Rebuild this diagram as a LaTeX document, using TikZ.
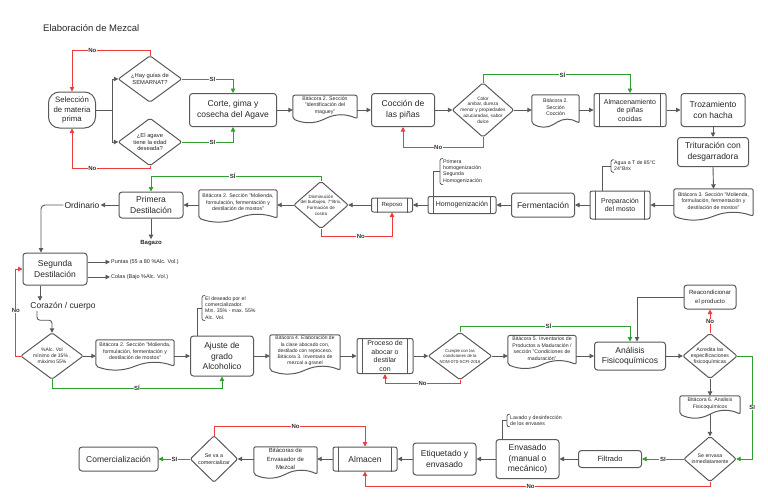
\documentclass[tikz,border=0pt]{standalone}
\usepackage{fontspec}
\setmainfont{Liberation Sans}
\usetikzlibrary{arrows.meta,calc}
\newcommand{\fsz}[2]{\fontsize{#1}{#2}\selectfont}
\definecolor{linec}{HTML}{595959}
\definecolor{noc}{HTML}{EE3B3B}
\definecolor{sic}{HTML}{2FA02F}

\begin{document}
\begin{tikzpicture}[x=1pt,y=-1pt,
  sz/.style 2 args={minimum width=#1pt,minimum height=#2pt},
  base/.style={align=center,inner sep=1pt,text=black!85},
  box/.style={base,draw=linec,line width=1pt,rounded corners=3pt,font=\fsz{8.5}{10.5}},
  pill/.style={box,rounded corners=11pt,font=\fsz{7.8}{9.5}},
  proc/.style={box,rounded corners=2pt,font=\fsz{7}{8.5}},
  doc/.style={base,font=\fsz{5.2}{6.6}},
  dec/.style={base,inner sep=0pt,font=\fsz{5}{6}},
  note/.style={base,align=left,anchor=west,inner xsep=3pt,inner ysep=1pt,font=\fsz{5.2}{6.2}},
  txt/.style={base,font=\fsz{8.5}{10.5}},
  small/.style={base,font=\fsz{5.5}{6.5}},
  outline/.style={draw=linec,line width=1pt,rounded corners=2pt},
  arr/.style={draw=linec,line width=.9pt,-{Triangle[length=4.5pt,width=4.5pt]}},
  no/.style={arr,draw=noc},
  si/.style={arr,draw=sic},
  lab/.style={fill=white,inner sep=.6pt,font=\bfseries\fsz{6}{6},text=black!80}
]
\useasboundingbox (0,0) rectangle (768,503);

\node[txt,anchor=west,font=\fsz{9.5}{11}] (title) at (42,28) {Elaboración de Mezcal};

\node[pill,sz={47}{36}] (sel) at (72,110) {Selección\\de materia\\prima};
\node[dec,sz={63}{46},font=\fsz{5.8}{6.8}] (guias) at (150,79) {¿Hay guías de\\SEMARNAT?};
\node[dec,sz={63}{47},font=\fsz{5.8}{6.8}] (edad) at (150,142) {¿El agave\\tiene la edad\\deseada?};
\node[box,sz={87}{33}] (corte) at (233,110) {Corte, gima y\\cosecha del Agave};
\node[doc,sz={64}{19}] (bitA) at (325,105.5) {Bitácora 2. Sección\\"Identificación del\\maguey"};
\node[box,sz={63}{33}] (coccion) at (403,110) {Cocción de\\las piñas};
\node[dec,sz={61}{54},font=\fsz{4.8}{5.8}] (color) at (483,110)
  {Color\\ambar, dureza\\menor y propiedades\\azucaradas, sabor\\dulce};
\node[doc,sz={47}{25}] (bitB) at (555.5,107.5) {Bitácora 2.\\Sección\\Cocción};
\node[proc,sz={72}{33}] (alm) at (630,110) {Almacenamiento\\de piñas\\cocidas};
\node[box,sz={64}{33}] (troz) at (713,110) {Trozamiento\\con hacha};
\node[box,sz={71}{29}] (trit) at (713,152) {Trituración con\\desgarradora};

\node[doc,sz={79}{24}] (bitC) at (713.5,201)
  {Bitácora 3. Sección "Molienda,\\formulación, fermentación y\\destilación de mostos"};
\node[proc,sz={60}{28}] (prep) at (620,205) {Preparación\\del mosto};
\node[box,sz={63}{24}] (ferm) at (543,205) {Fermentación};
\node[proc,sz={68}{17}] (homog) at (462,205) {Homogenización};
\node[proc,sz={41}{14},font=\fsz{6}{7}] (reposo) at (392,205) {Reposo};
\node[dec,sz={54}{47},font=\fsz{4.5}{5.6}] (burb) at (321,205) {Disminución\\del burbujeo, 7°Brix,\\Formación de\\costra};
\node[doc,sz={78}{25}] (bitD) at (238,202.5)
  {Bitácora 2. Sección "Molienda,\\formulación, fermentación y\\destilación de mostos"};
\node[box,sz={64}{26}] (prim) at (151,205) {Primera\\Destilación};
\node[txt] (ordin) at (82,205) {Ordinario};
\node[txt,font=\bfseries\fsz{6}{7}] (bagazo) at (151,243) {Bagazo};

\node[box,sz={64}{32}] (seg) at (55,269) {Segunda\\Destilación};
\node[small,anchor=west] (puntas) at (110,262) {Puntas (55 a 80 \%Alc. Vol.)};
\node[small,anchor=west] (colas) at (110,277) {Colas (Bajo \%Alc. Vol.)};
\node[txt] (coraz) at (63,306) {Corazón / cuerpo};

\node[dec,sz={62}{46}] (alc) at (52,356) {\%Alc. Vol\\mínimo de 35\% ,\\máximo 55\%};
\node[doc,sz={78}{23}] (bitE) at (135,351.5)
  {Bitácora 2. Sección "Molienda,\\formulación, fermentación y\\destilación de mostos"};
\node[box,sz={63}{40}] (ajuste) at (222,356) {Ajuste de\\grado\\Alcoholico};
\node[doc,sz={70}{30},font=\fsz{5}{6.3}] (bitF) at (305,351)
  {Bitácora 4. Elaboración de\\la clase abocado con,\\destilado con reproceso.\\Bitácora 3. Inventario de\\mezcal a granel};
\node[proc,sz={56}{35}] (abocar) at (385,356) {Proceso de\\abocar o\\destilar\\con};
\node[dec,sz={63}{47},font=\fsz{4.3}{5.5}] (nom) at (460,356)
  {Cumple con las\\condiciones de la\\NOM-070-SCFI-2016};
\node[doc,sz={68}{23}] (bitG) at (542,348.5)
  {Bitácora 5. Inventarios de\\Productos a Maduración /\\sección "Condiciones de\\maduración"};
\node[box,sz={71}{28}] (anal) at (630,356) {Análisis\\Fisicoquímicos};
\node[dec,sz={54}{45},font=\fsz{5.2}{6.2}] (acred) at (710,356)
  {Acredita las\\especificaciones\\fisicoquímicas};
\node[box,sz={52}{24},font=\fsz{6}{9}] (reac) at (710,297) {Reacondicionar\\el producto};
\node[doc,sz={60}{15}] (bitH) at (710,403.5) {Bitácora 6. Analisis\\Fisicoquímicos};

\node[dec,sz={52}{45},font=\fsz{5.2}{6.2}] (envasa) at (710,459) {Se envasa\\inmediatamente};
\node[box,sz={63}{17},font=\fsz{7.5}{9}] (filt) at (610,459) {Filtrado};
\node[box,sz={63}{39}] (env) at (527.5,459) {Envasado\\(manual o\\mecánico)};
\node[box,sz={63}{32}] (etiq) at (444.5,459) {Etiquetado y\\envasado};
\node[proc,sz={64}{24},font=\fsz{8.5}{10}] (almacen) at (365,459) {Almacen};
\node[doc,sz={63}{24},font=\fsz{6}{8.3}] (bitI) at (285.5,459) {Bitácoras de\\Envasador de\\Mezcal};
\node[dec,sz={47}{46},font=\fsz{5.4}{6.8}] (comerc) at (214,459) {Se va a\\comercializar};
\node[box,sz={79}{24}] (comer) at (118.5,459) {Comercialización};

\node[note] (nPrep) at (611,166) {Agua a T de 85°C\\24°Brix};
\node[note] (nHom) at (440,171.5) {Primera\\homogenización\\Segunda\\Homogenización};
\node[note] (nAj) at (202,308) {El deseado por el\\comercializador.\\Min. 35\% - max. 55\%\\Alc. Vol.};
\node[note] (nEnv) at (507,420.5) {Lavado y desinfección\\de los envases};

\foreach \d in {guias,edad,color,burb,alc,nom,acred,envasa,comerc}
  \draw[outline] (\d.north) -- (\d.east) -- (\d.south) -- (\d.west) -- cycle;
\foreach \d in {alm,prep,homog,reposo,abocar,almacen}
  \draw[outline] ([xshift=6pt]\d.north west) -- ([xshift=6pt]\d.south west)
                 ([xshift=-6pt]\d.north east) -- ([xshift=-6pt]\d.south east);
\foreach \d in {bitA,bitB,bitC,bitD,bitE,bitF,bitG,bitH,bitI}
  \draw[outline] let \p1=(\d.south west),\p2=(\d.north east),
                     \n1={(\x1+\x2)/2},\n2={(\x2-\x1)/6} in
    (\x2,{\y1-3pt}) .. controls ({\x2-\n2},{\y1+2pt}) and ({\n1+\n2},{\y1+2pt}) .. (\n1,{\y1-3pt})
    .. controls ({\n1-\n2},{\y1-8pt}) and ({\x1+\n2},{\y1-8pt}) .. (\x1,{\y1-3pt})
    -- (\x1,\y2) -- (\x2,\y2) -- cycle;
\foreach \d in {nPrep,nHom,nAj,nEnv}
  \draw[outline,line width=.8pt] ([xshift=3pt]\d.north west) -- (\d.north west)
    -- (\d.south west) -- ([xshift=3pt]\d.south west);

\draw[outline,line width=.8pt,rounded corners=0pt] ([xshift=-18pt]prep.north) |- (nPrep.west);
\draw[outline,line width=.8pt,rounded corners=0pt] ([xshift=-29pt]homog.north) |- (nHom.west);
\draw[outline,line width=.8pt,rounded corners=0pt] ([xshift=-25pt]ajuste.north) |- (nAj.west);
\draw[outline,line width=.8pt,rounded corners=0pt] ([xshift=-25.5pt]env.north) |- (nEnv.west);

\draw[arr] (sel.east) -- ++(16,0) |- (guias.west);
\draw[arr] (sel.east) -- ++(16,0) |- (edad.west);
\draw[no] (guias.north) -- ++(0,-5) -| node[lab,pos=.37]{No} (sel.north);
\draw[no] (edad.south) -- ++(0,3) -| node[lab,pos=.37]{No} (sel.south);
\draw[si] (guias.east) -| node[lab,pos=.3]{SI} (corte.north);
\draw[si] (edad.east) -| node[lab,pos=.3]{SI} (corte.south);
\draw[arr] (corte.east) -- (corte.east -| bitA.west);
\draw[arr] (coccion.west -| bitA.east) -- (coccion.west);
\draw[arr] (coccion) -- (color);
\draw[arr] (color.east) -- (color.east -| bitB.west);
\draw[arr] (alm.west -| bitB.east) -- (alm.west);
\draw[arr] (alm) -- (troz);
\draw[no] (color.south) -- ++(0,10) -| node[lab,pos=.28]{No} (coccion.south);
\draw[si] (color.north) -- ++(0,-8) -| node[lab,pos=.27]{SÍ} (alm.north);
\draw[arr] (troz) -- (trit);
\draw[arr] (trit.south) -- (bitC.north);

\draw[arr] (prep.east -| bitC.west) -- (prep.east);
\foreach \u/\v in {prep/ferm,ferm/homog,homog/reposo,reposo/burb}
  {\draw[arr] (\u) -- (\v);}
\draw[no] (burb.south) -- ++(0,8) -| node[lab,pos=.28]{No} (reposo.south);
\draw[arr] (burb.west) -- (burb.west -| bitD.east);
\draw[arr] (prim.east -| bitD.west) -- (prim.east);
\draw[si] (burb.north) -- ++(0,-5) -| node[lab,pos=.26]{SÍ} (prim.north);
\draw[arr] (prim) -- (ordin);
\draw[arr] (prim) -- (bagazo);
\draw[arr,rounded corners=4pt] (ordin.west) -| ([xshift=-14pt]seg.north);
\draw[arr] (seg.east |- puntas.west) -- (puntas.west);
\draw[arr] (seg.east |- colas.west) -- (colas.west);
\draw[arr] ([xshift=-15pt]seg.south) -- ([xshift=-15pt]seg.south |- coraz.north);
\draw[arr,rounded corners=3pt] ([xshift=-26pt]coraz.south) -- ++(0,9) -| (alc.north);

\draw[no] (alc.west) -- ++(-5,0) |- node[lab,pos=.26]{No} (seg.west);
\draw[si] (alc.south) -- ++(0,9) -| node[lab,pos=.25]{SÍ} (ajuste.south);
\draw[arr] (alc.east) -- (alc.east -| bitE.west);
\draw[arr] (ajuste.west -| bitE.east) -- (ajuste.west);
\draw[arr] (ajuste.east) -- (ajuste.east -| bitF.west);
\draw[arr] (abocar.west -| bitF.east) -- (abocar.west);
\draw[arr] (abocar) -- (nom);
\draw[no] (nom.south) -- ++(0,4) -| node[lab,pos=.25]{No} (abocar.south);
\draw[si] (nom.north) -- ++(0,-6) -| node[lab,pos=.26]{SÍ} (anal.north);
\draw[arr] (nom.east) -- (nom.east -| bitG.west);
\draw[arr] (anal.west -| bitG.east) -- (anal.west);
\draw[arr] (anal) -- (acred);
\draw[arr] (reac.west) -| ([xshift=7pt]anal.north);
\draw[no] (acred) -- node[lab]{No} (reac);
\draw[si] (acred.east) -- ++(15,0) |- node[lab,pos=.25]{SI} (envasa.east);
\draw[arr] (acred.south) -- (bitH.north);
\draw[arr] ([yshift=-3pt]bitH.south) -- (envasa.north);

\draw[si] (envasa) -- node[lab]{SI} (filt);
\draw[no] (envasa.south) -- ++(0,5) -| node[lab,pos=.26]{No} (almacen.south);
\foreach \u/\v in {filt/env,env/etiq,etiq/almacen}
  {\draw[arr] (\u) -- (\v);}
\draw[arr] (almacen.west) -- (almacen.west -| bitI.east);
\draw[arr] (comerc.east -| bitI.west) -- (comerc.east);
\draw[no] (comerc.north) -- ++(0,-9) -| node[lab,pos=.27]{No} (almacen.north);
\draw[si] (comerc) -- node[lab]{SI} (comer);

\end{tikzpicture}
\end{document}
